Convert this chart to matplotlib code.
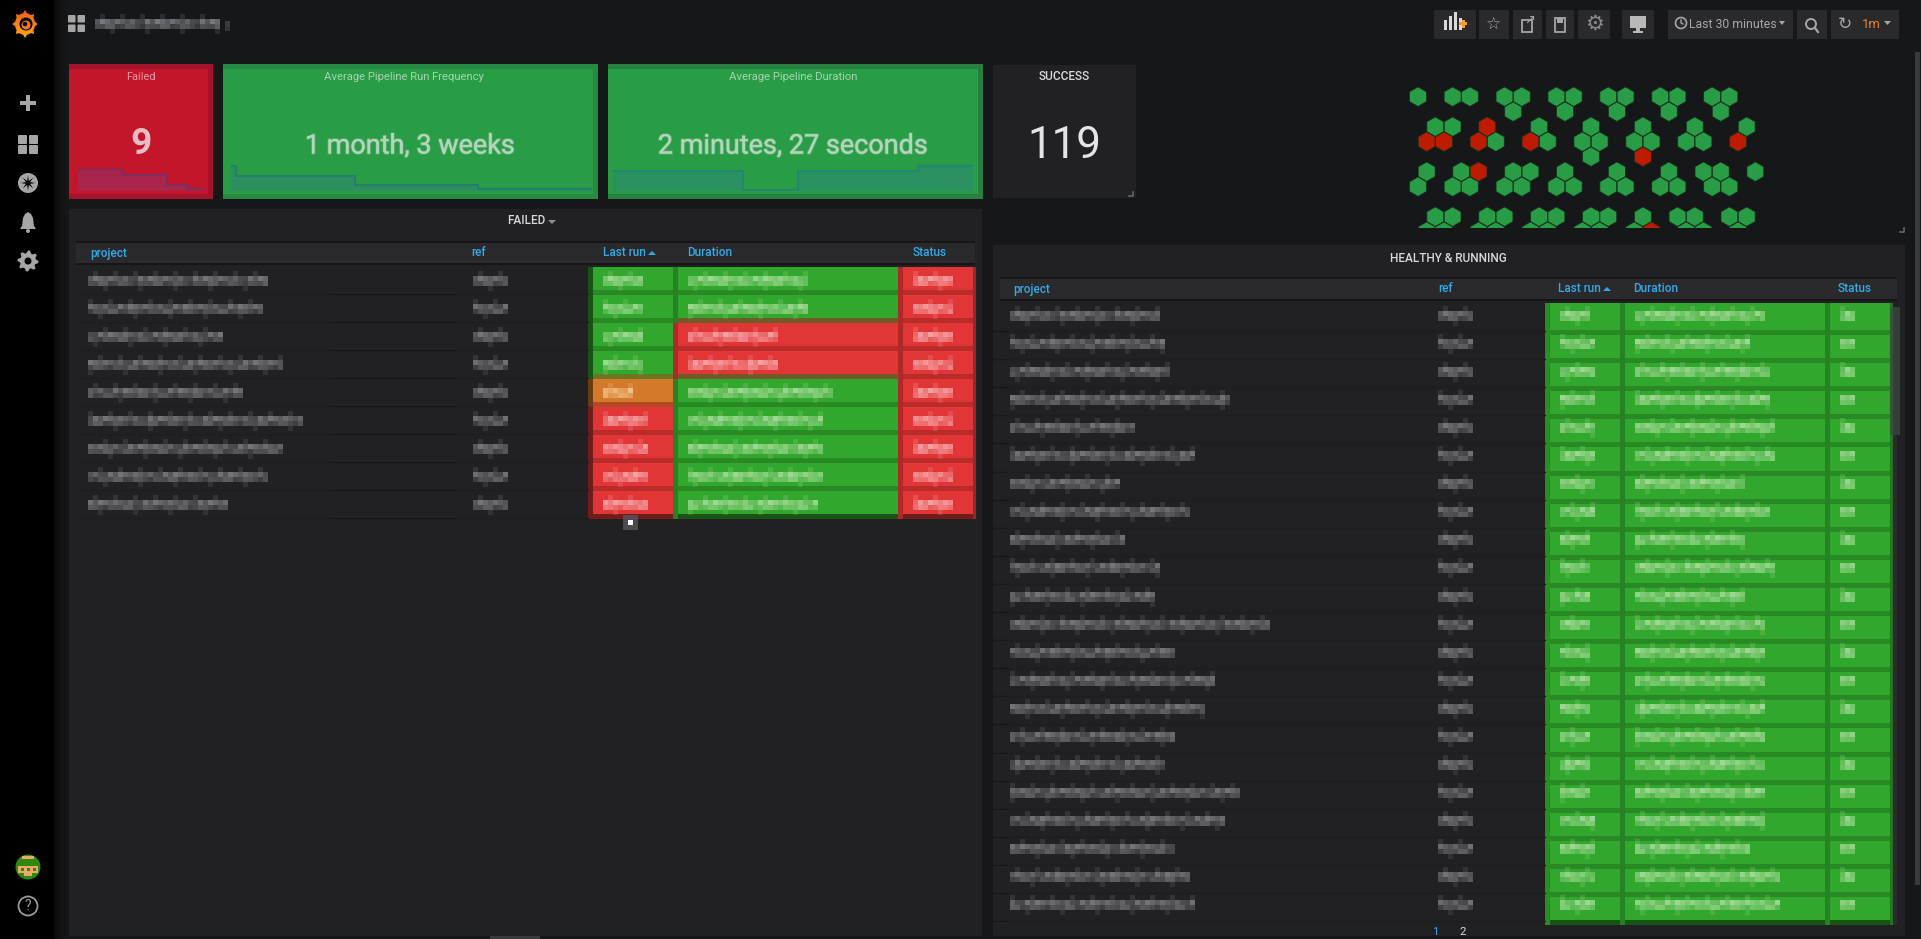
import numpy as np
import matplotlib
matplotlib.use('Agg')
import matplotlib.pyplot as plt
from matplotlib.patches import Rectangle, Circle, Polygon, RegularPolygon, FancyBboxPatch
from matplotlib.patheffects import withStroke

plt.rcParams['font.family'] = ['Roboto', 'DejaVu Sans']

# values
FAILED_COUNT = '9'
SUCCESS_COUNT = '119'
RUN_FREQUENCY = '1 month, 3 weeks'
PIPELINE_DURATION = '2 minutes, 27 seconds'
COLUMNS = ['project', 'ref', 'Last run', 'Duration', 'Status']

# sparklines: start of each step and the value held from there
SPARK_FAILED_T = [0, 44, 89, 110, 125]
SPARK_FAILED_V = [21, 16, 6, 2, 2]
SPARK_FREQ_T = [0, 5, 124, 247, 361]
SPARK_FREQ_V = [25, 15, 6, 2, 2]
SPARK_DUR_T = [0, 130, 185, 305, 360]
SPARK_DUR_V = [20, 1, 20, 25, 25]

# blurred table labels: only their lengths in pixels can be read
FAILED_PROJECT_W = [180, 175, 135, 194, 155, 214, 194, 180, 139]
FAILED_LAST_W = [40, 40, 40, 40, 30, 45, 45, 45, 45]
FAILED_DUR_W = [120, 120, 90, 90, 145, 135, 135, 135, 130]
FAILED_LAST_STATE = ['ok', 'ok', 'ok', 'ok', 'warn', 'bad', 'bad', 'bad', 'bad']
FAILED_DUR_STATE = ['ok', 'ok', 'bad', 'bad', 'ok', 'ok', 'ok', 'ok', 'ok']
FAILED_STATUS_STATE = ['bad'] * 9

HEALTHY_PROJECT_W = [150, 155, 160, 220, 125, 185, 110, 180, 115, 150, 145,
                     260, 165, 205, 195, 165, 155, 230, 215, 165, 180, 185]
HEALTHY_LAST_W = [30, 35, 35, 35, 35, 35, 35, 35, 30, 30, 30,
                  30, 30, 30, 30, 30, 30, 30, 35, 35, 35, 35]
HEALTHY_DUR_W = [130, 115, 135, 135, 140, 140, 110, 135, 110, 140, 110,
                 132, 129, 132, 129, 129, 132, 129, 129, 117, 143, 143]
HEALTHY_LAST_STATE = ['ok'] * 22
HEALTHY_DUR_STATE = ['ok'] * 22
HEALTHY_STATUS_STATE = ['ok'] * 22

# honeycomb, lattice column numbers per lattice row
HEX_OK = [
    [0, 4, 6, 10, 12, 16, 18, 22, 24, 28, 30, 34, 36],
    [11, 17, 23, 29, 35],
    [2, 4, 14, 20, 26, 32, 38],
    [9, 15, 19, 21, 25, 27, 31, 33],
    [20],
    [1, 5, 11, 13, 17, 23, 29, 33, 35, 39],
    [0, 4, 6, 10, 12, 16, 18, 22, 24, 28, 30, 34, 36],
    [],
    [2, 4, 8, 10, 14, 16, 20, 22, 26, 30, 32, 36, 38],
    [1, 3, 7, 9, 13, 15, 19, 21, 25, 31, 33, 37],
]
HEX_BAD = [[], [], [8], [1, 3, 7, 13, 37], [26], [7], [], [], [], [27]]

BG = '#161719'
PANEL = '#212124'
HEADER = '#2a2a2d'
BLUE = '#33a9e8'
TEXT = '#d8d9da'
ICON = '#a6a6a6'
STATE = {'ok': (0.196, 0.655, 0.176), 'bad': (0.886, 0.208, 0.208), 'warn': (0.83, 0.47, 0.16)}
MOSAIC = {'ok': (0.78, 0.93, 0.72), 'bad': (1.0, 0.80, 0.82), 'warn': (1.0, 0.90, 0.70)}
GREY_MOSAIC = (0.56, 0.56, 0.58)
PATTERN = (0.62, 0.85, 0.5, 0.95, 0.7, 0.45, 0.8, 0.58, 0.9, 0.66, 0.75)


def px(size):
    return size * 72 / 100


def rect(x0, y0, x1, y1, color, **kw):
    p = Rectangle((x0, y0), x1 - x0, y1 - y0, facecolor=color, edgecolor='none', **kw)
    ax.add_patch(p)
    return p


def mosaic(x, yc, w, color, strength=1.0, shift=0):
    # pixelated label like the censored text in the screenshot
    for c in range(int(round(w / 5))):
        a = PATTERN[(c * 3 + shift) % 11] * strength
        b = PATTERN[(c * 5 + shift + 4) % 11] * strength * 0.75
        rect(x + c * 5, yc - 5, x + c * 5 + 5, yc, color, alpha=a, antialiased=False)
        rect(x + c * 5, yc, x + c * 5 + 5, yc + 5, color, alpha=b, antialiased=False)
        if (c + shift) % 4 == 1:
            rect(x + c * 5, yc - 10, x + c * 5 + 5, yc - 5, color, alpha=0.22 * strength, antialiased=False)
        if (c + shift) % 7 == 3:
            rect(x + c * 5, yc + 5, x + c * 5 + 5, yc + 10, color, alpha=0.2 * strength, antialiased=False)


def label(x, y, s, size=11.7, color=TEXT, ha='center', **kw):
    return ax.text(x, y, s, fontsize=px(size), color=color, ha=ha, va='center', **kw)


def dark(c, f):
    return tuple(v * f for v in c)


def stat_panel(x0, x1, color, edge):
    rect(x0, 64, x1, 199, color)
    rect(x0, 64, x1, 69, edge)
    rect(x0, 194, x1, 199, edge)
    rect(x1 - 5, 64, x1, 199, edge)


def spark(x0, x1, t, v, fill, line):
    a = fig.add_axes([x0 / W, 1 - 191 / H, (x1 - x0) / W, 27 / H])
    a.patch.set_visible(False)
    a.axis('off')
    a.fill_between(t, v, 0, step='post', color=fill, lw=0)
    a.step(t, v, where='post', color=line, lw=1.5)
    a.set_xlim(t[0], t[-1])
    a.set_ylim(0, 27)


def table(x_hdr, hdr_y, x_cols, x_text, widths, states, cell_x, top, pitch, first_top, strip, ref_w, edge_f):
    project_w, last_w, dur_w = widths
    n = len(project_w)
    yc0 = x_text['y']
    # cell columns
    for col, st in enumerate(states):
        c0, c1 = cell_x[col], cell_x[col + 1]
        for i in range(n):
            cur = STATE[st[i]]
            y0 = first_top if i == 0 else top + i * pitch
            y1 = top + (i + 1) * pitch - strip
            rect(c0, y0, c1, y1, cur)
            nxt = STATE[st[i + 1]] if i < n - 1 else None
            if nxt is None:
                rect(c0, y1, c1, y1 + strip, dark(cur, 0.5))
            else:
                mix = tuple((a + b) / 2 for a, b in zip(cur, nxt))
                rect(c0, y1, c1, y1 + strip, dark(mix, 0.82))
            f = edge_f if col == 0 else 0.78
            rect(c0, y0, c0 + 5, y1 + strip, dark(cur, f))
            if col == len(states) - 1:
                rect(c1, y0, c1 + 3, y1 + strip, dark(cur, 0.7))
    # labels
    for i in range(n):
        yc = yc0 + i * x_text['pitch']
        mosaic(x_text['project'], yc, project_w[i], GREY_MOSAIC, 0.8, shift=i)
        mosaic(x_text['ref'], yc, ref_w, GREY_MOSAIC, 0.8, shift=i % 2)
        mosaic(x_text['last'], yc, last_w[i], MOSAIC[states[0][i]], 0.75, shift=i)
        mosaic(x_text['dur'], yc, dur_w[i], MOSAIC[states[1][i]], 0.75, shift=i + 2)
        mosaic(x_text['status'], yc, x_text['status_w'], MOSAIC[states[2][i]], 0.75, shift=i % 2 + 5)
    # header
    rect(x_hdr[0], hdr_y[0] - 2, x_hdr[1], hdr_y[1] + 2, '#161618')
    rect(x_hdr[0], hdr_y[0], x_hdr[1], hdr_y[1], HEADER)
    ym = (hdr_y[0] + hdr_y[1]) / 2
    for name, xt in zip(COLUMNS, x_cols):
        label(xt, ym, name, color=BLUE, ha='left', weight='medium')
    xa = x_cols[2] + 49
    ax.add_patch(Polygon([[xa - 4, ym + 2], [xa + 4, ym + 2], [xa, ym - 2]], facecolor=BLUE, edgecolor='none'))


W, H = 1921, 939
fig = plt.figure(figsize=(W / 100, H / 100), dpi=100, facecolor=BG)
ax = fig.add_axes([0, 0, 1, 1])
ax.set_facecolor(BG)
ax.axis('off')

# sidebar
rect(0, 0, 54, H, '#000000')
for i, c in enumerate(['#0b0c0d', '#0e0f10', '#111213', '#131416', '#151618']):
    rect(54 + i * 3, 0, 57 + i * 3, H, c)

# logo
ang = np.linspace(0, 2 * np.pi, 33)[:-1]
rad = np.where(np.arange(32) % 4 == 0, 14, 11)
logo = Polygon(np.c_[25 + rad * np.sin(ang) * 0.92, 24 - rad * np.cos(ang)], transform=ax.transData,
               facecolor='none', edgecolor='none')
ax.add_patch(logo)
im = ax.imshow(np.linspace(0, 1, 30)[:, None], extent=(10, 40, 40, 9), aspect='auto',
               cmap=matplotlib.colors.LinearSegmentedColormap.from_list('g', ['#f05a28', '#fbb010']), zorder=2)
im.set_clip_path(logo)
ax.add_patch(Circle((26, 24), 6.5, facecolor='#000000', edgecolor='none', zorder=3))
ax.add_patch(Circle((26, 25), 4.5, facecolor='#f47a20', edgecolor='none', zorder=3))
ax.add_patch(Circle((25, 24), 2.3, facecolor='#000000', edgecolor='none', zorder=3))

# plus
rect(20, 101, 36, 105, ICON)
rect(26, 95, 30, 111, ICON)
# dashboards
for gx, gy in [(18, 135), (29, 135), (18, 145), (29, 145)]:
    ax.add_patch(FancyBboxPatch((gx + 1, gy + 1), 7, 7, boxstyle='round,pad=1', facecolor=ICON, edgecolor='none'))
# explore
ax.add_patch(Circle((28, 183), 10, facecolor=ICON, edgecolor='none'))
sr = np.where(np.arange(16) % 2 == 0, 7.5, 2.2)
sa = np.linspace(0, 2 * np.pi, 17)[:-1]
ax.add_patch(Polygon(np.c_[28 + sr * np.sin(sa), 183 - sr * np.cos(sa)], facecolor='#000000', edgecolor='none'))
# bell
ax.add_patch(Polygon([[20, 229], [22, 226], [23, 218], [25, 214], [28, 212], [31, 214], [33, 218], [34, 226],
                      [36, 229]], facecolor=ICON, edgecolor='none'))
ax.add_patch(Circle((28, 231), 2, facecolor=ICON, edgecolor='none'))
# gear
gr = np.where(np.arange(32) % 4 < 2, 10.5, 8)
ga = np.linspace(0, 2 * np.pi, 33)[:-1]
ax.add_patch(Polygon(np.c_[28 + gr * np.sin(ga), 261 - gr * np.cos(ga)], facecolor=ICON, edgecolor='none'))
ax.add_patch(Circle((28, 261), 3.5, facecolor='#000000', edgecolor='none'))
# avatar
ax.add_patch(Circle((28, 867), 12.5, facecolor='#2c8a10', edgecolor='none'))
for bx0, by0, bx1, by1 in [(22, 856, 34, 859), (18, 866, 38, 873), (24, 873, 32, 876)]:
    rect(bx0, by0, bx1, by1, '#f0a868')
for bx in (21, 27, 33):
    rect(bx, 868, bx + 3, 871, '#2c8a10')
# help
ax.add_patch(Circle((28, 906), 9.5, facecolor='none', edgecolor='#9a9a9a', lw=1.3))
label(28, 906, '?', size=14, color='#9a9a9a')

# top bar
for gx, gy in [(68, 15), (77.5, 15), (68, 24.5), (77.5, 24.5)]:
    ax.add_patch(FancyBboxPatch((gx + 1, gy + 1), 5.5, 5.5, boxstyle='round,pad=1', facecolor=ICON, edgecolor='none'))
mosaic(95, 24, 125, (0.55, 0.56, 0.58), 0.85)
mosaic(225, 26, 5, (0.55, 0.56, 0.58), 0.5)

buttons = [(1434, 1476), (1479, 1509), (1513, 1542), (1546, 1574), (1578, 1610), (1622, 1654),
           (1668, 1793), (1797, 1827), (1831, 1899)]
for b0, b1 in buttons:
    rect(b0, 10, b1, 39, '#2a2a2c')
for bx, bh in zip([1444, 1449, 1454, 1459], [10, 14, 18, 12]):
    rect(bx, 30 - bh, bx + 3, 30, '#d8d9da')
rect(1459, 22, 1467, 25, '#f39c2a')
rect(1461.5, 19.5, 1464.5, 27.5, '#f39c2a')
ax.text(1494, 24, '\u2606', fontsize=px(17), color=ICON, ha='center', va='center', family='DejaVu Sans')
ax.add_patch(Rectangle((1522, 20), 10, 12, facecolor='none', edgecolor=ICON, lw=1.3))
ax.text(1530, 20, '\u2197', fontsize=px(13), color=ICON, ha='center', va='center', family='DejaVu Sans')
ax.add_patch(Rectangle((1555, 18), 10, 14, facecolor='none', edgecolor=ICON, lw=1.3))
rect(1557, 18, 1563, 23, ICON)
ax.text(1594, 24, '\u2699', fontsize=px(21), color='#8a8a8a', ha='center', va='center', family='DejaVu Sans')
rect(1630, 16, 1646, 28, '#b8b8b8')
rect(1636, 28, 1640, 31, '#b8b8b8')
rect(1633, 31, 1643, 33, '#b8b8b8')
ax.add_patch(Circle((1681, 23), 5.5, facecolor='none', edgecolor=ICON, lw=1.2))
ax.plot([1681, 1681, 1683], [20, 23, 24], color=ICON, lw=1)
label(1689, 24, 'Last 30 minutes', size=12.3, color=ICON, ha='left')
ax.add_patch(Polygon([[1779, 21], [1785, 21], [1782, 25]], facecolor=ICON, edgecolor='none'))
ax.add_patch(Circle((1811, 24), 5, facecolor='none', edgecolor=ICON, lw=1.4))
ax.plot([1815, 1818], [28, 32], color=ICON, lw=1.6)
ax.text(1845, 24, '\u21bb', fontsize=px(17), color=ICON, ha='center', va='center', family='DejaVu Sans')
label(1871, 24, '1m', size=13, color='#f0802a')
ax.add_patch(Polygon([[1884, 21], [1891, 21], [1887.5, 25]], facecolor=ICON, edgecolor='none'))

# stat panels
stat_panel(69, 213, '#c4162a', '#a3142a')
stat_panel(223, 598, '#299c46', '#268a42')
stat_panel(608, 983, '#299c46', '#277f41')
rect(993, 65, 1136, 198, PANEL)
spark(78, 203, SPARK_FAILED_T, SPARK_FAILED_V, '#a9254c', '#7d2d5e')
spark(231, 592, SPARK_FREQ_T, SPARK_FREQ_V, '#2b8f60', '#267f6a')
spark(613, 973, SPARK_DUR_T, SPARK_DUR_V, '#2b9160', '#268572')

blur = [withStroke(linewidth=1.5, foreground=(0.8, 0.85, 0.8, 0.25))]
label(141, 77, 'Failed', size=11, color='#e39aa4')
label(404, 77, 'Average Pipeline Run Frequency', size=11.3, color='#a6d4b0')
label(793, 77, 'Average Pipeline Duration', size=11.3, color='#a6d4b0')
label(141, 144, FAILED_COUNT, size=37, color='#e8bcc4', weight='bold')
label(410, 146, RUN_FREQUENCY, size=27, color='#b2d6bb', path_effects=blur)
label(793, 146, PIPELINE_DURATION, size=27, color='#b2d6bb', path_effects=blur)
label(1064, 77, 'SUCCESS', size=11.7, weight='medium')
label(1064, 146, SUCCESS_COUNT, size=44, color='#e4e5e6')

# small resize handles
ax.plot([1133, 1133, 1129], [192, 196, 196], color='#666666', lw=1.2)
ax.plot([1904, 1904, 1900], [228, 232, 232], color='#666666', lw=1.2)

# honeycomb
clip = Rectangle((1400, 60), 400, 168, transform=ax.transData, facecolor='none', edgecolor='none')
for hexes, col in [(HEX_OK, '#299c46'), (HEX_BAD, '#bf1b00')]:
    for r, cols in enumerate(hexes):
        for k in cols:
            h = RegularPolygon((1418 + k * 8.65, 96.67 + r * 15), 6, radius=9.7, facecolor=col,
                               edgecolor='#17321f', lw=0.5)
            ax.add_patch(h)
            h.set_clip_path(clip)

# FAILED panel
rect(69, 209, 982, 936, PANEL)
label(526, 221, 'FAILED', weight='medium')
ax.add_patch(Polygon([[548, 220], [556, 220], [552, 224]], facecolor='#8e8e8e', edgecolor='none'))
for i in range(9):
    ly = 294 + 28 * i
    ax.plot([76, 588], [ly, ly], color='#1e1e20', lw=1)
    ax.plot([330, 455], [ly, ly], color='#18181a', lw=1)
table((76, 975), (243, 263), [90, 471, 603, 687, 913],
      dict(y=281, pitch=28, project=88, ref=473, last=603, dur=688, status=913, status_w=40),
      (FAILED_PROJECT_W, FAILED_LAST_W, FAILED_DUR_W),
      (FAILED_LAST_STATE, FAILED_DUR_STATE, FAILED_STATUS_STATE),
      [588, 673, 898, 973], 267, 28, 267, 5, 35, 0.5)
# mouse cursor
rect(623, 515, 638, 530, '#55555c', alpha=0.8, antialiased=False)
rect(628, 520, 633, 525, '#ffffff', antialiased=False)

# HEALTHY panel
rect(993, 245, 1905, 936, PANEL)
label(1448, 258, 'HEALTHY & RUNNING', weight='medium')
for i in range(22):
    ly = 331 + 28.1 * i
    ax.plot([993, 1545], [ly, ly], color='#1e1e20', lw=1)
    ax.plot([993, 1007], [ly, ly], color='#18181a', lw=1)
table((1000, 1897), (279, 299), [1013, 1438, 1558, 1633, 1838],
      dict(y=316, pitch=28.05, project=1010, ref=1438, last=1560, dur=1635, status=1840, status_w=15),
      (HEALTHY_PROJECT_W, HEALTHY_LAST_W, HEALTHY_DUR_W),
      (HEALTHY_LAST_STATE, HEALTHY_DUR_STATE, HEALTHY_STATUS_STATE),
      [1545, 1620, 1825, 1890], 306.9, 28.1, 303, 5, 35, 0.85)
rect(1890, 307, 1900, 435, '#3c4a42', alpha=0.75)
rect(1893, 435, 1897, 925, '#2a2b2e')
label(1435, 932, '1', size=11.5, color='#33a2e5')
label(1463, 932, '2', size=11.5)

# window scrollbar and page bottom
rect(1915, 52, 1920, 885, '#3a3a3d')
rect(69, 936, 1905, H, BG)
rect(490, 936, 540, 939, '#3a3a3d')

ax.set_xlim(0, W)
ax.set_ylim(H, 0)
fig.savefig('out.png', dpi=100, facecolor=BG)
